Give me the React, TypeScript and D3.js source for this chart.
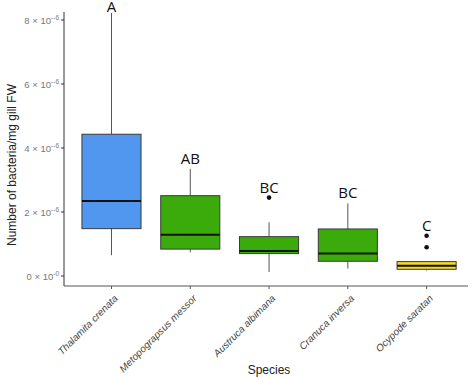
import React from "react";
import * as d3 from "d3";

const species = ["Thalamita crenata", "Metopograpsus messor", "Austruca albimana", "Cranuca inversa", "Ocypode saratan"];
const whiskerLow = [0.65e-6, 0.74e-6, 0.125e-6, 0.23e-6, 0.17e-6];
const q1 = [1.48e-6, 0.84e-6, 0.70e-6, 0.46e-6, 0.21e-6];
const median = [2.34e-6, 1.29e-6, 0.78e-6, 0.70e-6, 0.32e-6];
const q3 = [4.43e-6, 2.51e-6, 1.23e-6, 1.47e-6, 0.45e-6];
const whiskerHigh = [8.22e-6, 3.35e-6, 1.68e-6, 2.27e-6, 0.45e-6];
const outliers: number[][] = [[], [], [2.45e-6], [], [1.26e-6, 0.90e-6]];
const letters = ["A", "AB", "BC", "BC", "C"];
const fills = ["#5297ef", "#3aab0b", "#3aab0b", "#3aab0b", "#f2da2a"];
const yTicks = [0, 2e-6, 4e-6, 6e-6, 8e-6];

export default function App() {
  const W = 474, H = 377;
  const x = d3.scaleBand<string>().domain(species).range([72.1, 466]).paddingInner(0).paddingOuter(0);
  const y = d3.scaleLinear().domain([0, 8e-6]).range([276, 20]);
  const bw = x.bandwidth() * 0.75;
  const axisLeft = 64, axisBottom = 286;
  const fmt = (v: number) => {
    if (v === 0) return { m: "0", e: "0" };
    const e = Math.floor(Math.log10(v));
    return { m: String(Math.round(v / Math.pow(10, e))), e: String(e) };
  };
  return (
    <div style={{ position: "absolute", left: 0, top: 0 }}>
      <svg width={W} height={H} style={{ display: "block", background: "#fff" }}>
        {/* axes */}
        <line x1={axisLeft} x2={axisLeft} y1={12} y2={axisBottom} stroke="#333" strokeWidth={1} />
        <line x1={axisLeft} x2={468} y1={axisBottom} y2={axisBottom} stroke="#555" strokeWidth={1} />
        {yTicks.map((t, i) => {
          const f = fmt(t);
          return (
            <g key={i}>
              <line x1={axisLeft - 3} x2={axisLeft} y1={y(t)} y2={y(t)} stroke="#333" />
              <text x={axisLeft - 5} y={y(t) + 3.5} textAnchor="end" fontSize={9.5} fill="#777" fontFamily="Liberation Sans, Arial, sans-serif">
                {f.m + " × 10"}<tspan fontSize={6.5} dy={-4}>{"-" + f.e}</tspan>
              </text>
            </g>
          );
        })}
        {species.map((s, i) => {
          const cx = (x(s) as number) + x.bandwidth() / 2;
          return (
            <g key={s}>
              <line x1={cx} x2={cx} y1={axisBottom} y2={axisBottom + 3} stroke="#555" />
              <text transform={`translate(${cx + 7},${axisBottom + 13}) rotate(-45)`} textAnchor="end" fontSize={10} fontStyle="italic" fill="#444" fontFamily="Liberation Sans, Arial, sans-serif">
                {s}
              </text>
            </g>
          );
        })}
        {/* boxes */}
        {species.map((s, i) => {
          const cx = (x(s) as number) + x.bandwidth() / 2;
          return (
            <g key={"b" + s}>
              <line x1={cx} x2={cx} y1={y(whiskerHigh[i])} y2={y(q3[i])} stroke="#555" strokeWidth={1} />
              <line x1={cx} x2={cx} y1={y(q1[i])} y2={y(whiskerLow[i])} stroke="#555" strokeWidth={1} />
              <rect x={cx - bw / 2} y={y(q3[i])} width={bw} height={y(q1[i]) - y(q3[i])} fill={fills[i]} stroke="#3a3a3a" strokeWidth={1} />
              <line x1={cx - bw / 2} x2={cx + bw / 2} y1={y(median[i])} y2={y(median[i])} stroke="#111" strokeWidth={2} />
              {outliers[i].map((o, j) => (
                <circle key={j} cx={cx} cy={y(o)} r={2.3} fill="#111" />
              ))}
              <text x={cx} y={Math.max(12, y(Math.max(whiskerHigh[i], ...outliers[i], 0)) - 5)} textAnchor="middle" fontSize={15} fill="#111" fontFamily="Open Sans, sans-serif">
                {letters[i]}
              </text>
            </g>
          );
        })}
        <text transform={`translate(16,165) rotate(-90)`} textAnchor="middle" fontSize={12} fill="#222" fontFamily="Liberation Sans, Arial, sans-serif">
          Number of bacteria/mg gill FW
        </text>
        <text x={269} y={374} textAnchor="middle" fontSize={12} fill="#222" fontFamily="Liberation Sans, Arial, sans-serif">
          Species
        </text>
      </svg>
    </div>
  );
}
